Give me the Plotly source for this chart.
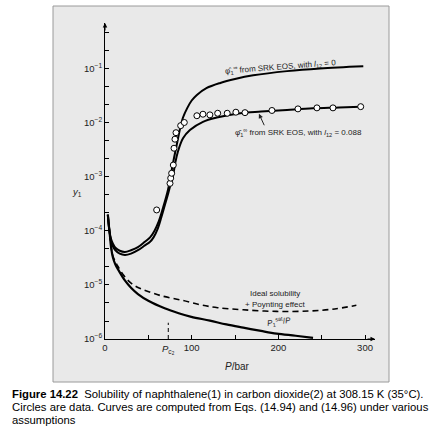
import plotly.graph_objects as go

# ---------------- data ----------------
P_srk0 = [3.3, 4.3, 5.3, 7, 9, 12, 17, 23, 30, 38, 46, 52, 57, 62, 67, 72.7, 75.5, 79, 82.7, 86,
          90, 95, 100, 106, 117, 133, 150, 171, 210, 248, 298]
y_srk0 = [2.0e-4, 1.32e-4, 9.5e-5, 7.1e-5, 5.9e-5, 4.9e-5, 4.3e-5, 4.1e-5, 4.4e-5, 5.0e-5, 6.3e-5,
          7.6e-5, 1.0e-4, 1.5e-4, 2.7e-4, 5.8e-4, 1.0e-3, 2.0e-3, 3.9e-3, 7.1e-3, 1.26e-2, 1.9e-2,
          2.6e-2, 3.3e-2, 4.4e-2, 5.5e-2, 6.5e-2, 7.6e-2, 9.1e-2, 0.102, 0.112]

P_srk088 = [3.3, 4.3, 5.3, 7, 9, 12, 17, 23, 30, 38, 46, 52, 56, 61, 65, 69, 73, 76, 78.5, 81, 84,
            90, 98, 113, 129, 156, 180, 210, 240, 270, 295]
y_srk088 = [2.0e-4, 1.32e-4, 9.5e-5, 6.5e-5, 5.2e-5, 4.4e-5, 3.8e-5, 3.6e-5, 3.8e-5, 4.4e-5, 5.4e-5,
            6.3e-5, 7.6e-5, 1.12e-4, 1.8e-4, 3.0e-4, 5.0e-4, 7.6e-4, 1.05e-3, 1.8e-3, 2.9e-3,
            5.2e-3, 7.4e-3, 1.05e-2, 1.26e-2, 1.51e-2, 1.62e-2, 1.74e-2, 1.86e-2, 1.93e-2, 2.0e-2]

P_sat = [3.3, 4.3, 5.3, 7, 9.2, 12, 15, 22.7, 30, 38, 50, 68.8, 85, 99.6, 121, 140, 159.5, 180,
         198, 220, 240]
y_sat = [2.0e-4, 1.32e-4, 9.5e-5, 5.0e-5, 3.2e-5, 2.4e-5, 1.95e-5, 1.23e-5, 8.9e-6, 6.8e-6,
         5.1e-6, 3.7e-6, 3.0e-6, 2.57e-6, 2.19e-6, 1.86e-6, 1.62e-6, 1.41e-6, 1.26e-6, 1.15e-6,
         1.05e-6]

P_poy = [3.3, 4.3, 5.3, 7, 9.2, 12, 15, 22, 30.4, 40, 49.6, 65, 88, 110, 130, 159.5, 198, 236,
         265, 290]
y_poy = [2.0e-4, 1.32e-4, 9.5e-5, 5.2e-5, 3.4e-5, 2.7e-5, 2.2e-5, 1.48e-5, 1.07e-5, 8.7e-6,
         7.6e-6, 6.3e-6, 5.25e-6, 4.3e-6, 3.8e-6, 3.47e-6, 3.24e-6, 3.3e-6, 3.6e-6, 4.2e-6]

P_data = [59.6, 75, 75.8, 76.9, 78.8, 79.6, 80.7, 81.9, 87.3, 91.5, 106, 113, 121, 130, 141, 151,
          161.5, 192.6, 222.6, 244.5, 263, 295]
y_data = [2.45e-4, 7.6e-4, 9.5e-4, 1.17e-3, 1.66e-3, 3.4e-3, 5.0e-3, 6.6e-3, 8.9e-3, 1.02e-2,
          1.36e-2, 1.45e-2, 1.41e-2, 1.51e-2, 1.51e-2, 1.58e-2, 1.55e-2, 1.7e-2, 1.82e-2, 1.9e-2,
          1.9e-2, 2.0e-2]

PC2 = 73.0
PC_LINE_Y = [1e-6, 2.0e-6]

x_tickvals = [0, 50, 100, 150, 200, 250, 300]
x_ticktext = ["0", "", "100", "", "200", "", "300"]
y_major = [1e-6, 1e-5, 1e-4, 1e-3, 1e-2, 1e-1]
y_major_text = ["10<sup>−6</sup>", "10<sup>−5</sup>", "10<sup>−4</sup>", "10<sup>−3</sup>",
                "10<sup>−2</sup>", "10<sup>−1</sup>"]
y_minor = [2.154e-6, 4.642e-6, 2.154e-5, 4.642e-5, 2.154e-4, 4.642e-4, 2.154e-3, 4.642e-3,
           2.154e-2, 4.642e-2, 2.154e-1, 4.642e-1]

FONT = "Liberation Sans, Arial, sans-serif"

# ---------------- layout geometry ----------------
W, H = 444, 439
L, R, T, B = 105, 69, 23, 100
PW, PH = W - L - R, H - T - B
TY = 8  # empirical vertical correction for annotation text


def px(x):
    return (x - L) / PW


def py(y):
    return (H - B - y) / PH


def pyt(y):
    return py(y + TY)


fig = go.Figure()
line_kw = dict(mode="lines", hoverinfo="skip", showlegend=False)
fig.add_trace(go.Scatter(x=P_srk0, y=y_srk0, line=dict(color="black", width=2, shape="spline"), **line_kw))
fig.add_trace(go.Scatter(x=P_srk088, y=y_srk088, line=dict(color="black", width=2, shape="spline"), **line_kw))
fig.add_trace(go.Scatter(x=P_sat, y=y_sat, line=dict(color="black", width=2.2, shape="spline"), **line_kw))
fig.add_trace(go.Scatter(x=P_poy, y=y_poy, line=dict(color="black", width=1.6, dash="6px,4px", shape="spline"), **line_kw))
fig.add_trace(go.Scatter(x=[PC2, PC2], y=PC_LINE_Y, line=dict(color="black", width=1, dash="4px,3px"), **line_kw))
fig.add_trace(go.Scatter(x=P_data, y=y_data, mode="markers", showlegend=False, hoverinfo="skip",
                         marker=dict(symbol="circle", size=6, color="white",
                                     line=dict(color="black", width=1))))

# grey scanned page box
fig.add_shape(type="rect", xref="paper", yref="paper", x0=px(53), x1=px(389), y0=py(382), y1=py(6),
              fillcolor="#e9e9e9", line=dict(color="#9a9a9a", width=1), layer="below")

ann = []
tf = dict(family=FONT, color="#222", size=8)
ann.append(dict(xref="paper", yref="paper", x=px(223), y=py(55), xanchor="left",
                text="φ̂<sub>1</sub><sup>∞</sup> from SRK EOS, with <i>l</i><sub>12</sub> = 0",
                showarrow=False, textangle=-4.5, font=tf))
ann.append(dict(xref="paper", yref="paper", x=px(233), y=py(132), xanchor="left",
                text="φ̂<sub>1</sub><sup>∞</sup> from SRK EOS, with <i>l</i><sub>12</sub> = 0.088",
                showarrow=False, font=tf))
ann.append(dict(x=177.6, y=-1.83, xref="x", yref="y", text="", showarrow=True, arrowhead=2,
                arrowsize=0.9, arrowwidth=1, ax=6, ay=13, arrowcolor="#222"))
ann.append(dict(xref="paper", yref="paper", x=px(275), y=pyt(291.5), text="Ideal solubility",
                showarrow=False, font=tf))
ann.append(dict(xref="paper", yref="paper", x=px(275), y=pyt(302.5), text="+ Poynting effect",
                showarrow=False, font=tf))
ann.append(dict(xref="paper", yref="paper", x=px(279), y=pyt(323), text="<i>P</i><sub>1</sub><sup>sat</sup>/<i>P</i>",
                showarrow=False, textangle=-8, font=tf))
# axis labels
ann.append(dict(xref="paper", yref="paper", x=px(70), y=pyt(184), text="<i>y</i><sub>1</sub>",
                showarrow=False, font=dict(family=FONT, size=9.5, color="#222")))
ann.append(dict(xref="paper", yref="paper", x=px(237), y=pyt(366), text="<i>P</i>/bar",
                showarrow=False, font=dict(family=FONT, size=10, color="#222")))
ann.append(dict(x=PC2, xref="x", yref="paper", y=pyt(350), text="<i>P</i><sub>c<sub>2</sub></sub>",
                showarrow=False, font=dict(family=FONT, size=9.5, color="#222")))
# axis arrows
ann.append(dict(xref="paper", yref="paper", x=0, y=1, text="", showarrow=True, arrowhead=2,
                arrowsize=0.9, arrowwidth=1, ax=0, ay=9, arrowcolor="black"))
ann.append(dict(xref="paper", yref="paper", x=1, y=0, text="", showarrow=True, arrowhead=2,
                arrowsize=0.9, arrowwidth=1, ax=-9, ay=0, arrowcolor="black"))
# caption
cap = dict(family=FONT, size=11.3, color="black")
ann.append(dict(xref="paper", yref="paper", x=px(10), y=pyt(394), xanchor="left",
                text="<b>Figure 14.22</b>  Solubility of naphthalene(1) in carbon dioxide(2) at 308.15 K (35°C).",
                showarrow=False, font=cap))
ann.append(dict(xref="paper", yref="paper", x=px(10), y=pyt(407), xanchor="left",
                text="Circles are data. Curves are computed from Eqs. (14.94) and (14.96) under various",
                showarrow=False, font=cap))
ann.append(dict(xref="paper", yref="paper", x=px(10), y=pyt(420), xanchor="left",
                text="assumptions", showarrow=False, font=cap))

fig.update_layout(
    width=W, height=H, autosize=False,
    margin=dict(l=L, r=R, t=T, b=B, pad=0),
    paper_bgcolor="white", plot_bgcolor="rgba(0,0,0,0)",
    showlegend=False, annotations=ann,
    font=dict(family=FONT, color="#222"),
    xaxis=dict(range=[0, 311.5], showgrid=False, zeroline=False, showline=True, linecolor="black",
               linewidth=1, ticks="inside", ticklen=4, tickcolor="black", tickmode="array",
               tickvals=x_tickvals, ticktext=x_ticktext, tickfont=dict(size=9.5, family=FONT, color="#222")),
    yaxis=dict(type="log", range=[-6, -0.15], showgrid=False, zeroline=False, showline=True,
               linecolor="black", linewidth=1, ticks="inside", ticklen=4, tickcolor="black",
               tickmode="array", tickvals=y_major, ticktext=y_major_text,
               tickfont=dict(size=9.5, family=FONT, color="#222"),
               minor=dict(ticks="inside", ticklen=4, tickcolor="black", tickmode="array", tickvals=y_minor,
                          showgrid=False)),
)

fig.write_html("out.html")
